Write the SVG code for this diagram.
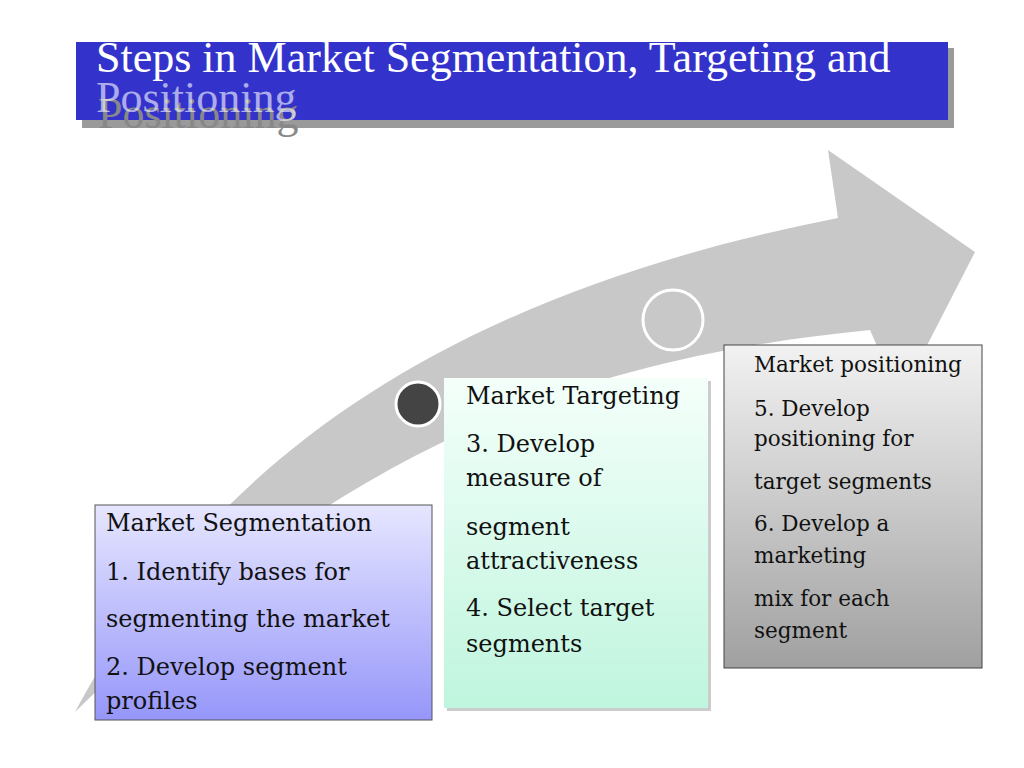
<svg xmlns="http://www.w3.org/2000/svg" width="1024" height="768" viewBox="0 0 1024 768">
<defs>
<linearGradient id="g1" x1="0" y1="0" x2="0" y2="1"><stop offset="0" stop-color="#e6e6ff"/><stop offset="1" stop-color="#9696fa"/></linearGradient>
<linearGradient id="g2" x1="0" y1="0" x2="0" y2="1"><stop offset="0" stop-color="#f4fffa"/><stop offset="1" stop-color="#bff5de"/></linearGradient>
<linearGradient id="g3" x1="0" y1="0" x2="0" y2="1"><stop offset="0" stop-color="#f2f2f2"/><stop offset="1" stop-color="#a0a0a0"/></linearGradient>
<style>
.t{font-family:"DejaVu Serif",serif;fill:#111;font-size:24px}
.s{font-family:"DejaVu Serif",serif;fill:#111;font-size:21.5px}
</style>
</defs>
<rect width="1024" height="768" fill="#fff"/>
<g id="title">
<rect x="82" y="48" width="872" height="80" fill="#9a9a9a"/>
<rect x="76" y="42" width="872" height="78" fill="#3333cc"/>
<text x="98" y="128" font-family="Liberation Serif,serif" font-size="44" fill="#888">Positioning</text>
<text x="96" y="72" font-family="Liberation Serif,serif" font-size="44" fill="#fff">Steps in Market Segmentation, Targeting and</text>
<text x="96" y="112" font-family="Liberation Serif,serif" font-size="44" fill="#fff" fill-opacity="0.6">Positioning</text>
</g>
<g id="arrow">
<path d="M75,712 C200,480 420,300 838,218 L828,150 L975,252 L900,398 L870,330 C560,360 330,460 75,712 Z" fill="#c8c8c8"/>
<circle cx="418" cy="404" r="22" fill="#444" stroke="#fff" stroke-width="3"/>
<circle cx="673" cy="320" r="30" fill="#c8c8c8" stroke="#fff" stroke-width="3"/>
</g>
<g id="seg">
<rect x="95" y="505" width="337" height="215" fill="url(#g1)" stroke="#555"/>
<text class="t" x="106" y="531">Market Segmentation</text>
<text class="t" x="106" y="580">1. Identify bases for</text>
<text class="t" x="106" y="627">segmenting the market</text>
<text class="t" x="106" y="675">2. Develop segment</text>
<text class="t" x="106" y="709">profiles</text>
</g>
<g id="tgt">
<rect x="447" y="381" width="264" height="330" fill="#ccc"/>
<rect x="444" y="378" width="264" height="330" fill="url(#g2)"/>
<text class="t" x="466" y="404">Market Targeting</text>
<text class="t" x="466" y="452">3. Develop</text>
<text class="t" x="466" y="486">measure of</text>
<text class="t" x="466" y="535">segment</text>
<text class="t" x="466" y="569">attractiveness</text>
<text class="t" x="466" y="616">4. Select target</text>
<text class="t" x="466" y="652">segments</text>
</g>
<g id="pos">
<rect x="724" y="345" width="258" height="323" fill="url(#g3)" stroke="#444"/>
<text class="s" x="754" y="372">Market positioning</text>
<text class="s" x="754" y="416">5. Develop</text>
<text class="s" x="754" y="446">positioning for</text>
<text class="s" x="754" y="489">target segments</text>
<text class="s" x="754" y="531">6. Develop a</text>
<text class="s" x="754" y="563">marketing</text>
<text class="s" x="754" y="606">mix for each</text>
<text class="s" x="754" y="638">segment</text>
</g>
<g id="connectors"/>
</svg>
